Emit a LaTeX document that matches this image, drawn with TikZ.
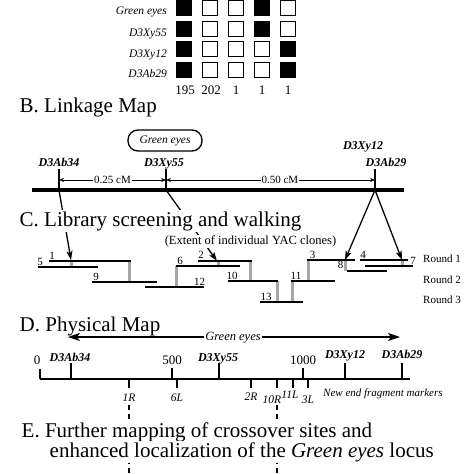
\documentclass[tikz,border=0pt]{standalone}
\usepackage{fontspec}
\setmainfont{Liberation Serif}
\usetikzlibrary{arrows.meta}
\begin{document}
\begin{tikzpicture}[x=1pt,y=-1pt,
  head/.style={font=\fontsize{21}{21}\selectfont, anchor=base west, inner sep=1.5pt, fill=white},
  lab/.style={font=\fontsize{11.5}{12}\selectfont\itshape, inner sep=0pt},
  blab/.style={font=\fontsize{12}{12}\selectfont\bfseries\itshape, inner sep=0pt, anchor=base},
  num/.style={font=\fontsize{13}{13}\selectfont, inner sep=0pt, anchor=base},
  small/.style={font=\fontsize{11}{11}\selectfont, inner sep=0pt},
  cnum/.style={font=\fontsize{11}{11}\selectfont, inner sep=0pt, anchor=base},
  mk/.style={font=\fontsize{11.5}{12}\selectfont\itshape, inner sep=0pt, anchor=base},
  sqw/.style={draw=black, line width=1.3pt, minimum size=15pt, inner sep=0pt, fill=white},
  sqb/.style={sqw, fill=black},
  clone/.style={line width=1.4pt},
  glink/.style={line width=3pt, draw=black!35},
  tick/.style={line width=1.2pt},
  btick/.style={line width=2pt},
  bigarrow/.style={line width=1.3pt, -{Stealth[length=9pt,width=6pt,inset=2pt]}},
  dim/.style={line width=0.8pt, {Stealth[length=5pt,width=4pt]}-{Stealth[length=5pt,width=4pt]}},
  dashline/.style={line width=1.2pt, dash pattern=on 5pt off 4pt}
]
\useasboundingbox (0,0) rectangle (474,474);

% ---------- A: haplotype matrix ----------
\node[lab, anchor=base east] (lge) at (167,14.5) {Green eyes};
\node[lab, anchor=base east] (l55) at (167,36) {D3Xy55};
\node[lab, anchor=base east] (l12) at (167,57) {D3Xy12};
\node[lab, anchor=base east] (l29) at (167,77) {D3Ab29};

\node[sqb] (a11) at (184,8) {};
\node[sqw] (a12) at (210,8) {};
\node[sqw] (a13) at (236,8) {};
\node[sqb] (a14) at (262,8) {};
\node[sqw] (a15) at (288,8) {};

\node[sqb] (a21) at (184,28.7) {};
\node[sqw] (a22) at (210,28.7) {};
\node[sqw] (a23) at (236,28.7) {};
\node[sqb] (a24) at (262,28.7) {};
\node[sqw] (a25) at (288,28.7) {};

\node[sqb] (a31) at (184,49.3) {};
\node[sqw] (a32) at (210,49.3) {};
\node[sqw] (a33) at (236,49.3) {};
\node[sqw] (a34) at (262,49.3) {};
\node[sqb] (a35) at (288,49.3) {};

\node[sqb] (a41) at (184,70) {};
\node[sqw] (a42) at (210,70) {};
\node[sqw] (a43) at (236,70) {};
\node[sqw] (a44) at (262,70) {};
\node[sqb] (a45) at (288,70) {};

\node[num] (n1) at (185,94) {195};
\node[num] (n2) at (211,94) {202};
\node[num] (n3) at (236,94) {1};
\node[num] (n4) at (262,94) {1};
\node[num] (n5) at (288,94) {1};

% ---------- B: linkage map ----------
\node[head] (hB) at (18,112) {B. Linkage Map};
\node[lab, draw, line width=1.3pt, rounded corners=10pt, minimum width=74pt, minimum height=21pt] (gebox) at (165,140.5) {Green eyes};
\node[blab] (b34) at (59,166) {D3Ab34};
\node[blab] (b55) at (164,166) {D3Xy55};
\node[blab] (b12) at (363,149) {D3Xy12};
\node[blab] (b29) at (386,166) {D3Ab29};

\coordinate (chl) at (32,190);
\coordinate (chr) at (404,190);
\coordinate (t1) at (59,169);  \coordinate (t1b) at (59,190);
\coordinate (t2) at (166,169); \coordinate (t2b) at (166,190);
\coordinate (t3) at (375,169); \coordinate (t3b) at (375,190);
\draw[tick] (t1) -- (t1b);
\draw[tick] (t2) -- (t2b);
\draw[tick] (t3) -- (t3b);
\coordinate (d1) at (59,180); \coordinate (d2) at (166,180); \coordinate (d3) at (375,180);
\draw[dim] (d1) -- node[small, fill=white, inner sep=1pt] (c25) {0.25 cM} (d2);
\draw[dim] (d2) -- node[small, fill=white, inner sep=1pt, pos=0.545] (c50) {0.50 cM} (d3);
\draw[line width=4.5pt] (chl) -- (chr);

% arrows from linkage map to clones
\coordinate (p1) at (71,260);
\coordinate (p2) at (217,261);
\coordinate (p3) at (345,260);
\coordinate (p4) at (402,260);
\draw[bigarrow] (t1b) -- (p1);
\draw[bigarrow] (t2b) -- (p2);
\draw[bigarrow] (t3b) -- (p3);
\draw[bigarrow] (t3b) -- (p4);

% ---------- C: library screening ----------
\node[head] (hC) at (18,226) {C. Library screening and walking};
\node[font=\fontsize{12.5}{13}\selectfont, inner sep=1pt, fill=white, anchor=base] (ext) at (250.5,244.5) {(Extent of individual YAC clones)};

% gray links
\draw[glink] (71,261) -- (71,267);
\draw[glink] (129,261) -- (129,282);
\draw[glink] (176,266) -- (176,287);
\draw[glink] (218,261) -- (218,266);
\draw[glink] (250,261) -- (250,281);
\draw[glink] (277,281) -- (277,302);
\draw[glink] (292,281) -- (292,302);
\draw[glink] (308,260) -- (308,281);
\draw[glink] (345,260) -- (345,271);
\draw[glink] (402,260) -- (402,266);

% clones
\draw[clone] (38,267) -- (98,267);   \node[cnum] (k5) at (40,265) {5};
\draw[clone] (49,261) -- (131,261);  \node[cnum] (k1) at (52,259) {1};
\draw[clone] (92,282) -- (157,282);  \node[cnum] (k9) at (96,280) {9};
\draw[clone] (145,287) -- (204,287); \node[cnum] (k12) at (199.5,285) {12};
\draw[clone] (176,266) -- (240,266); \node[cnum] (k6) at (180,264.5) {6};
\draw[clone] (198,261) -- (252,261); \node[cnum] (k2) at (201,258.5) {2};
\draw[clone] (228,281) -- (278,281); \node[cnum] (k10) at (232,279) {10};
\draw[clone] (260,302) -- (303,302); \node[cnum] (k13) at (266,300) {13};
\draw[clone] (291,281) -- (335,281); \node[cnum] (k11) at (296,279) {11};
\draw[clone] (307,260) -- (355,260); \node[cnum] (k3) at (312.5,258) {3};
\draw[clone] (347,271) -- (387,271); \node[cnum] (k8) at (340.5,268) {8};
\draw[clone] (360,260) -- (408,260); \node[cnum] (k4) at (363,258) {4};
\draw[clone] (365,266) -- (413,266); \node[cnum] (k7) at (413,264) {7};

\node[small, anchor=base west] (r1) at (423,262) {Round 1};
\node[small, anchor=base west] (r2) at (423,283) {Round 2};
\node[small, anchor=base west] (r3) at (423,303) {Round 3};

% ---------- D: physical map ----------
\node[head] (hD) at (18,331) {D. Physical Map};
\node[mk, font=\fontsize{12.5}{13}\selectfont\itshape, inner sep=1pt] (gD) at (233,340.5) {Green eyes};
\coordinate (gl) at (68,337);
\coordinate (gr) at (400,337);
\draw[line width=1.3pt, -{Stealth[length=12pt,width=8pt,inset=3pt]}] (gD.west |- gl) -- (gl);
\draw[line width=1.3pt, -{Stealth[length=12pt,width=8pt,inset=3pt]}] (gD.east |- gr) -- (gr);

\coordinate (axl) at (40,379);
\coordinate (axr) at (410,379);
\draw[btick] (40,369) -- (40,379);
\draw[tick] (71,363) -- (71,379);
\draw[btick] (172,368) -- (172,379);
\draw[tick] (219,363) -- (219,379);
\draw[btick] (303,368) -- (303,379);
\draw[tick] (345,363) -- (345,379);
\draw[tick] (402,363) -- (402,379);
\draw[line width=1.6pt] (axl) -- (axr);

\node[num] (s0) at (37,364.5) {0};
\node[num] (s500) at (172,364.5) {500};
\node[num] (s1000) at (303,364.5) {1000};
\node[blab] (e34) at (70,361.5) {D3Ab34};
\node[blab] (e55) at (218,361.5) {D3Xy55};
\node[blab] (e12) at (345,358) {D3Xy12};
\node[blab] (e29) at (402,358) {D3Ab29};

\draw[tick] (129,379) -- (129,388);
\draw[tick] (177,379) -- (177,388);
\draw[tick] (251,379) -- (251,388);
\draw[tick] (277,379) -- (277,388);
\draw[tick] (293,379) -- (293,388);
\draw[tick] (308,379) -- (308,388);
\node[mk] (m1R) at (129,401) {1R};
\node[mk] (m6L) at (177,401) {6L};
\node[mk] (m2R) at (251,400) {2R};
\node[mk] (m10R) at (272,403) {10R};
\node[mk] (m11L) at (290,398) {11L};
\node[mk] (m3L) at (308,403) {3L};
\node[font=\fontsize{11}{11}\selectfont\itshape, inner sep=0pt, anchor=base west] (nef) at (323,396) {New end fragment markers};

% dashed lines
\coordinate (q1) at (129,405); \coordinate (q1b) at (129,474);
\coordinate (q2) at (277,405); \coordinate (q2b) at (277,474);
\draw[dashline] (q1) -- (q1b);
\draw[dashline] (q2) -- (q2b);

% ---------- E ----------
\node[head] (hE1) at (20,437) {E. Further mapping of crossover sites and};
\node[head] (hE2) at (48,457) {enhanced localization of the \textit{Green eyes} locus};
\end{tikzpicture}
\end{document}
